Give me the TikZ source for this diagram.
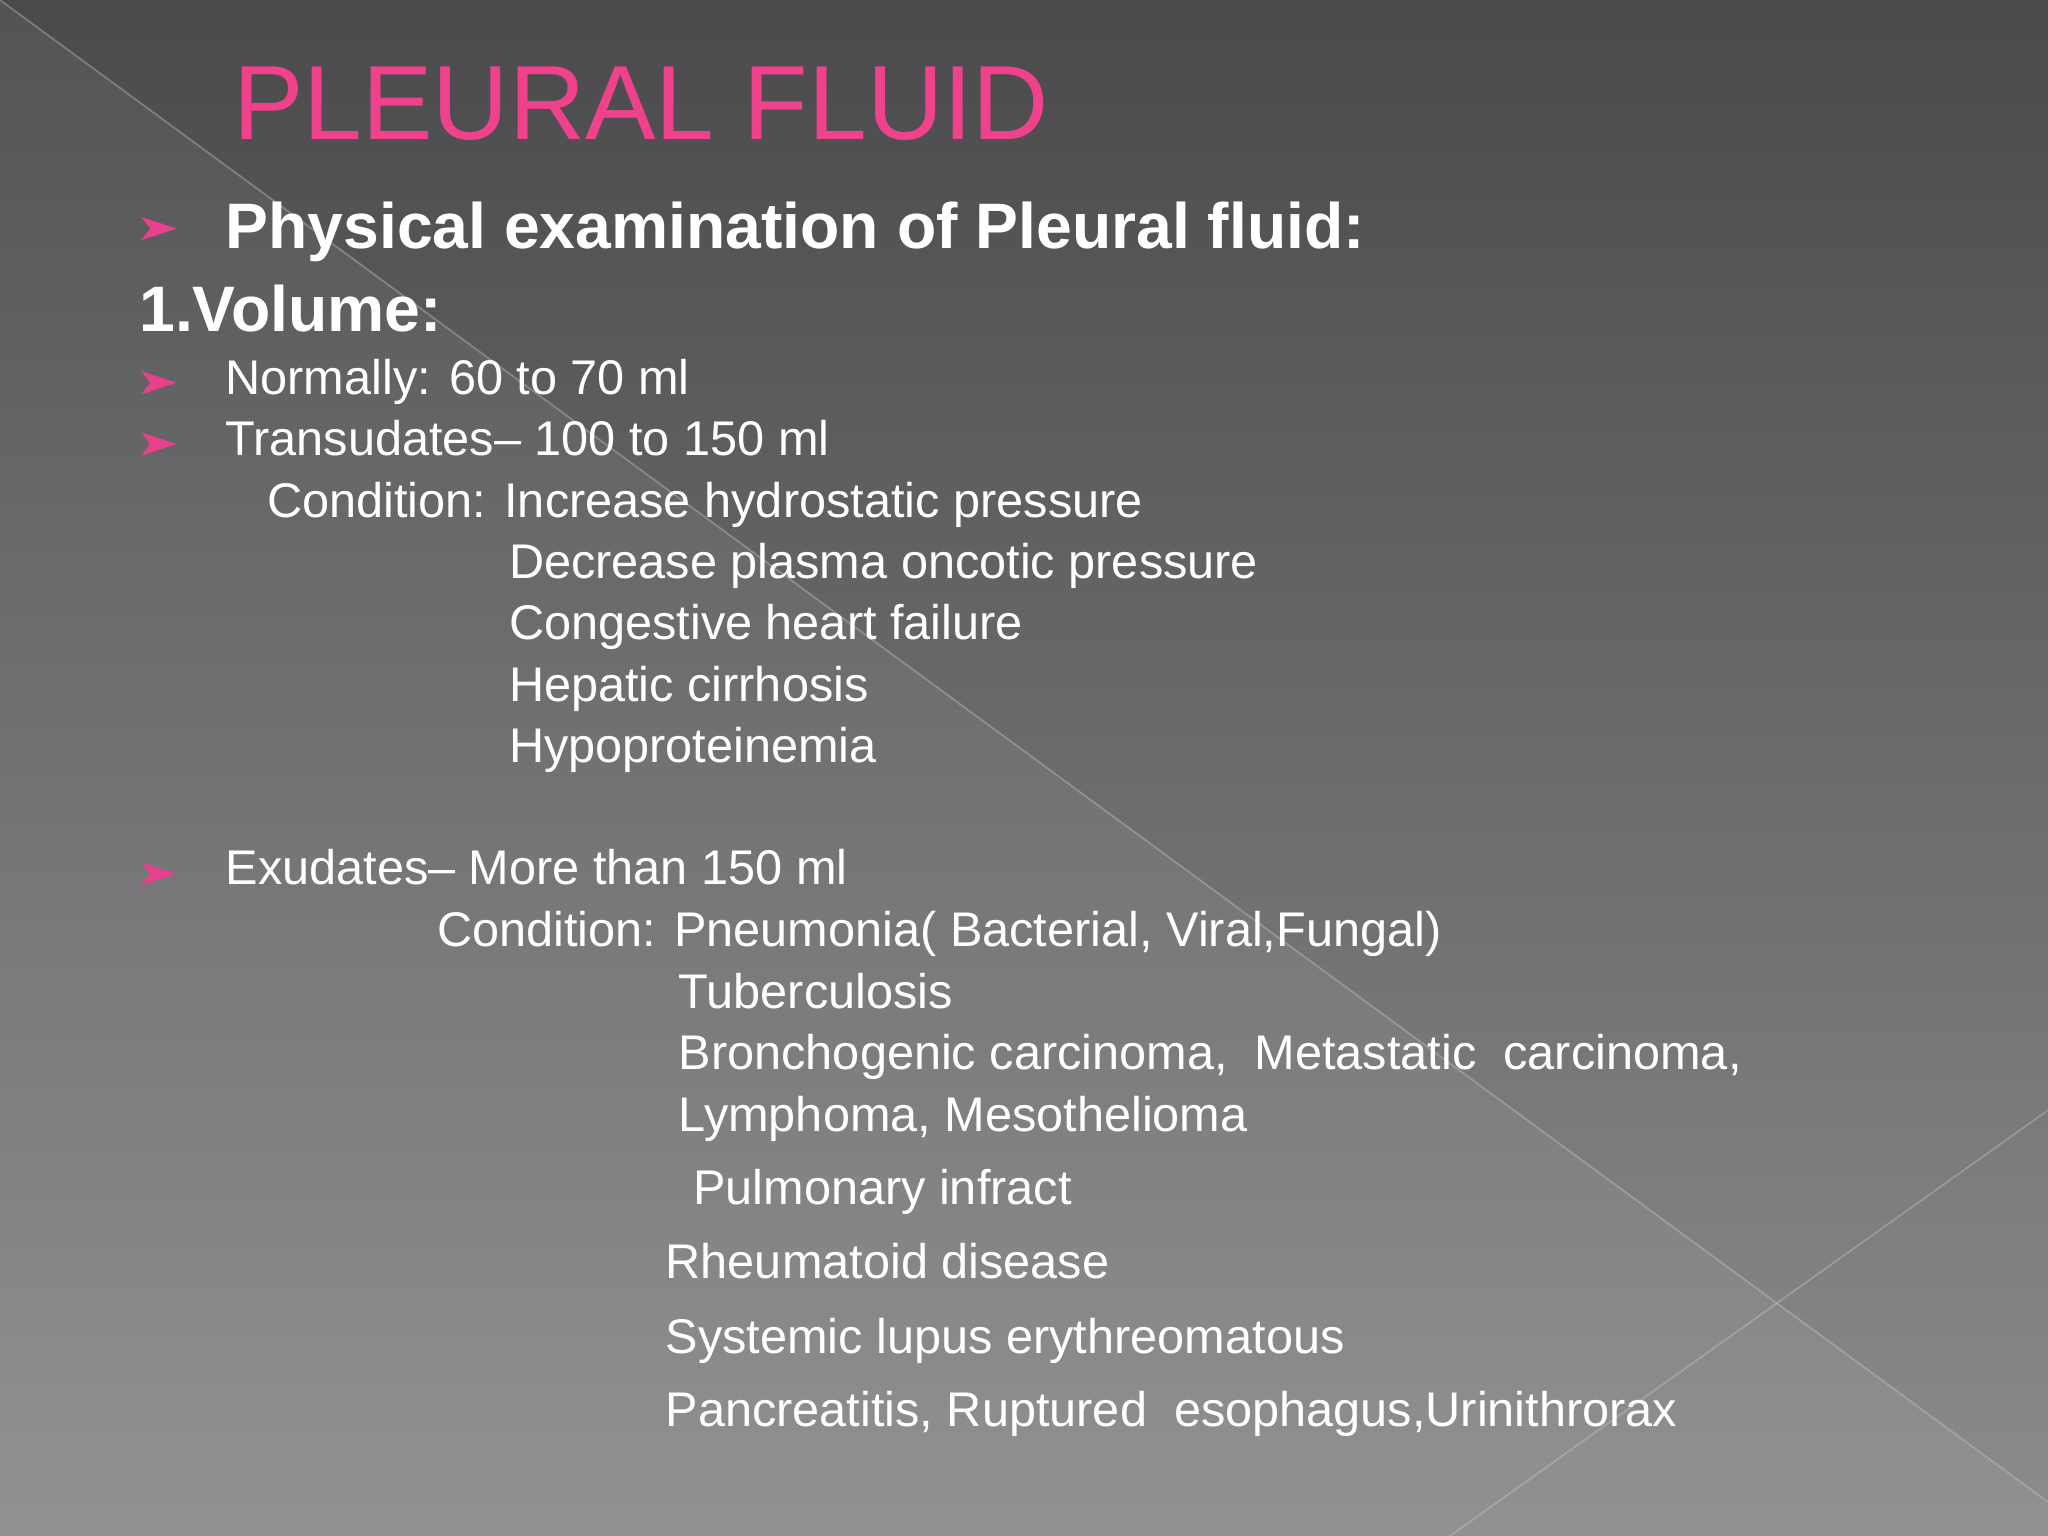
\documentclass[tikz,border=0pt]{standalone}
\usepackage{fontspec}
\setmainfont{Liberation Sans}
\usepackage{xcolor}
\usetikzlibrary{positioning}
\definecolor{titlepink}{HTML}{F0428C}
\definecolor{bulletpink}{HTML}{E8408A}
\definecolor{bgtop}{HTML}{4A4A4C}
\definecolor{bgbot}{HTML}{8C8B8E}
\newcommand{\arrowbullet}[2]{%
  \fill[bulletpink] (#1,#2) -- ++(0.27,0.09) -- ++(-0.27,0.09) -- ++(0.07,-0.09) -- cycle;}

\begin{document}
\begin{tikzpicture}[
  x=1cm, y=-1cm,
  line/.style={anchor=base west, inner sep=0pt, text=white, font=\fontsize{10.6pt}{12pt}\selectfont},
  head/.style={anchor=base west, inner sep=0pt, text=white, font=\fontsize{14pt}{16pt}\selectfont\bfseries},
  title/.style={anchor=base west, inner sep=0pt, text=titlepink, font=\fontsize{23pt}{26pt}\selectfont}
]
\useasboundingbox (0,0) rectangle (15.68,11.76);
\shade[top color=bgtop, bottom color=bgbot] (0,0) rectangle (15.68,11.76);

% faint diagonal lines
\draw[white!60!gray, opacity=0.35] (0,0) -- (15.68,11.5);
\draw[white!60!gray, opacity=0.35] (11.1,11.76) -- (15.68,8.5);
\fill[white, opacity=0.05] (0,0) -- (15.68,11.5) -- (15.68,11.76) -- (0,11.76) -- cycle;

% title
\node[title] (title) at (1.78,1.07) {PLEURAL FLUID};

% heading
\arrowbullet{1.08}{1.66}
\node[head] (phys) at (1.72,1.90) {Physical examination of Pleural fluid:};
\node[head] (vol) at (1.06,2.54) {1.Volume:};

% transudates
\arrowbullet{1.08}{2.84}
\node[line] (normal) at (1.72,3.02) {Normally: 60 to 70 ml};
\arrowbullet{1.08}{3.31}
\node[line] (trans) at (1.72,3.49) {Transudates– 100 to 150 ml};
\node[line] (tcond) at (2.04,3.96) {Condition: Increase hydrostatic pressure};
\node[line] (tc2) at (3.89,4.43) {Decrease plasma oncotic pressure};
\node[line] (tc3) at (3.89,4.90) {Congestive heart failure};
\node[line] (tc4) at (3.89,5.37) {Hepatic cirrhosis};
\node[line] (tc5) at (3.89,5.84) {Hypoproteinemia};

% exudates
\arrowbullet{1.08}{6.60}
\node[line] (exu) at (1.72,6.77) {Exudates– More than 150 ml};
\node[line] (econd) at (3.34,7.25) {Condition: Pneumonia( Bacterial, Viral,Fungal)};
\node[line] (ec2) at (5.19,7.72) {Tuberculosis};
\node[line] (ec3) at (5.19,8.19) {Bronchogenic carcinoma,\ \ Metastatic\ \ carcinoma,};
\node[line] (ec4) at (5.19,8.66) {Lymphoma, Mesothelioma};
\node[line] (ec5) at (5.30,9.22) {Pulmonary infract};
\node[line] (ec6) at (5.09,9.79) {Rheumatoid disease};
\node[line] (ec7) at (5.09,10.36) {Systemic lupus erythreomatous};
\node[line] (ec8) at (5.09,10.92) {Pancreatitis, Ruptured\ \ esophagus,Urinithrorax};
\end{tikzpicture}
\end{document}
